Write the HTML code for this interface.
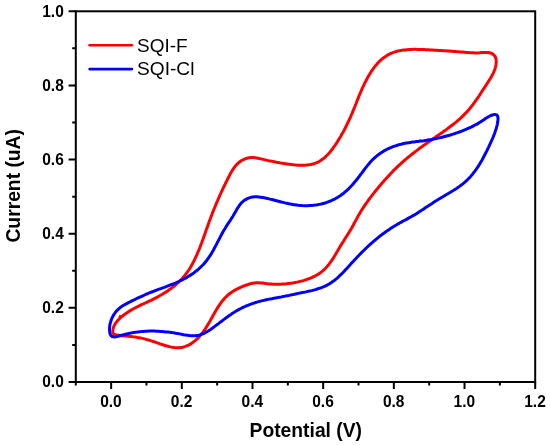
<!DOCTYPE html>
<html><head><meta charset="utf-8"><style>
html,body{margin:0;padding:0;background:#fff;}
body{width:550px;height:445px;overflow:hidden;}
svg{display:block;}
.tl{font:bold 15.5px "Liberation Sans",Arial,sans-serif;fill:#000;}
.al{font:bold 19.3px "Liberation Sans",Arial,sans-serif;fill:#000;}
.lg{font:18.3px "Liberation Sans",Arial,sans-serif;fill:#000;}
</style></head><body>
<svg width="550" height="445" viewBox="0 0 550 445">
<path d="M112.8,330.8 113.1,328.8 113.6,326.9 114.5,325.1 115.5,323.3 116.8,321.6 118.2,320.0 119.7,318.4 121.4,316.9 123.1,315.5 124.9,314.2 126.7,312.9 128.5,311.7 130.3,310.6 132.1,309.5 134.0,308.5 135.9,307.5 137.7,306.6 139.6,305.7 141.5,304.7 143.4,303.9 145.3,303.0 147.2,302.1 149.1,301.2 151.1,300.3 153.0,299.3 154.9,298.3 156.8,297.3 158.7,296.3 160.5,295.3 162.4,294.2 164.2,293.0 166.1,291.9 167.9,290.7 169.6,289.4 171.4,288.2 173.1,286.9 174.8,285.5 176.4,284.1 178.0,282.7 179.5,281.2 181.0,279.7 182.5,278.2 183.9,276.6 185.2,274.9 186.5,273.2 187.7,271.5 188.9,269.8 190.1,268.0 191.1,266.1 192.2,264.3 193.2,262.4 194.2,260.5 195.1,258.5 196.0,256.6 196.9,254.6 197.7,252.7 198.6,250.7 199.4,248.7 200.2,246.7 200.9,244.7 201.7,242.7 202.4,240.7 203.2,238.7 203.9,236.7 204.6,234.7 205.3,232.7 206.0,230.6 206.7,228.6 207.5,226.6 208.2,224.6 208.9,222.6 209.6,220.6 210.4,218.6 211.1,216.6 211.9,214.6 212.6,212.6 213.4,210.7 214.2,208.7 215.0,206.7 215.8,204.8 216.6,202.8 217.5,200.8 218.3,198.9 219.2,196.9 220.0,195.0 220.9,193.0 221.8,191.1 222.7,189.2 223.6,187.2 224.6,185.3 225.5,183.3 226.5,181.4 227.4,179.5 228.4,177.5 229.4,175.6 230.4,173.6 231.5,171.7 232.6,169.9 233.8,168.1 235.1,166.4 236.4,164.8 237.9,163.4 239.5,162.0 241.2,160.8 243.0,159.8 245.0,158.9 247.0,158.3 249.1,157.8 251.3,157.6 253.4,157.6 255.6,157.8 257.8,158.2 259.9,158.6 262.1,159.1 264.2,159.6 266.3,160.1 268.3,160.6 270.4,161.0 272.4,161.4 274.4,161.8 276.4,162.2 278.4,162.5 280.5,162.9 282.6,163.2 284.7,163.6 286.9,163.9 289.1,164.2 291.3,164.5 293.5,164.8 295.7,165.0 297.9,165.2 300.1,165.3 302.3,165.3 304.5,165.2 306.6,165.1 308.8,164.8 310.8,164.5 312.8,164.0 314.8,163.4 316.7,162.7 318.6,161.8 320.3,160.8 322.0,159.6 323.7,158.4 325.3,157.0 326.8,155.5 328.3,154.0 329.7,152.4 331.1,150.7 332.4,149.0 333.7,147.2 335.0,145.4 336.2,143.6 337.4,141.7 338.5,139.9 339.7,138.0 340.8,136.2 341.8,134.3 342.9,132.5 343.9,130.6 344.9,128.7 345.9,126.8 346.8,124.9 347.7,123.0 348.6,121.1 349.5,119.2 350.4,117.3 351.2,115.3 352.1,113.4 352.9,111.4 353.7,109.4 354.5,107.5 355.3,105.5 356.1,103.5 356.8,101.5 357.6,99.6 358.4,97.6 359.2,95.6 360.0,93.6 360.9,91.6 361.7,89.7 362.6,87.7 363.5,85.8 364.4,83.8 365.4,81.9 366.4,80.0 367.4,78.0 368.5,76.1 369.6,74.3 370.7,72.4 371.9,70.6 373.1,68.9 374.4,67.1 375.7,65.5 377.1,63.9 378.6,62.3 380.0,60.8 381.6,59.4 383.2,58.1 384.9,56.9 386.6,55.7 388.4,54.6 390.3,53.7 392.2,52.8 394.2,52.1 396.3,51.5 398.4,50.9 400.6,50.5 402.7,50.1 404.9,49.9 407.1,49.7 409.3,49.5 411.4,49.4 413.6,49.3 415.7,49.3 417.8,49.4 419.9,49.4 422.0,49.5 424.1,49.6 426.2,49.7 428.3,49.8 430.4,49.9 432.6,50.0 434.7,50.2 436.8,50.3 439.0,50.4 441.1,50.5 443.3,50.7 445.4,50.8 447.5,51.0 449.7,51.1 451.8,51.2 454.0,51.4 456.1,51.6 458.3,51.7 460.4,51.9 462.5,52.0 464.6,52.2 466.8,52.4 468.9,52.6 471.0,52.7 473.1,52.8 475.2,52.9 477.3,52.9 479.5,52.8 481.7,52.6 483.9,52.5 486.1,52.4 488.2,52.5 490.3,53.0 492.2,53.7 493.9,54.9 495.2,56.4 495.9,58.4 496.2,60.5 496.2,62.7 495.9,64.9 495.5,67.1 494.9,69.2 494.1,71.2 493.3,73.1 492.3,75.0 491.3,76.9 490.2,78.7 489.1,80.4 488.0,82.2 486.8,84.0 485.6,85.8 484.5,87.6 483.3,89.4 482.1,91.2 480.9,93.0 479.8,94.8 478.6,96.6 477.4,98.3 476.1,100.1 474.9,101.9 473.6,103.6 472.3,105.3 471.0,107.0 469.7,108.7 468.3,110.3 466.9,111.9 465.4,113.4 463.9,114.9 462.4,116.4 460.9,117.9 459.3,119.3 457.7,120.7 456.1,122.1 454.4,123.4 452.7,124.7 451.0,126.0 449.3,127.3 447.6,128.6 445.9,129.9 444.2,131.1 442.4,132.4 440.7,133.6 438.9,134.8 437.1,136.0 435.4,137.3 433.6,138.5 431.9,139.7 430.1,140.9 428.4,142.1 426.6,143.4 424.9,144.6 423.1,145.8 421.4,147.1 419.7,148.3 418.0,149.6 416.3,150.9 414.6,152.2 412.9,153.5 411.2,154.8 409.6,156.1 407.9,157.5 406.3,158.8 404.7,160.2 403.1,161.6 401.5,163.0 399.9,164.5 398.3,165.9 396.8,167.4 395.3,168.9 393.7,170.4 392.2,172.0 390.8,173.5 389.3,175.1 387.8,176.7 386.4,178.2 385.0,179.8 383.5,181.5 382.1,183.1 380.7,184.7 379.4,186.3 378.0,188.0 376.6,189.6 375.3,191.3 374.0,192.9 372.6,194.6 371.3,196.3 370.1,198.0 368.8,199.7 367.6,201.4 366.3,203.1 365.1,204.9 363.9,206.7 362.8,208.4 361.6,210.2 360.5,212.0 359.4,213.9 358.3,215.7 357.3,217.6 356.3,219.5 355.2,221.4 354.2,223.3 353.2,225.2 352.2,227.1 351.1,229.0 350.0,230.8 349.0,232.6 347.8,234.4 346.7,236.2 345.5,237.9 344.4,239.7 343.3,241.5 342.1,243.3 341.0,245.1 339.9,246.9 338.8,248.8 337.7,250.7 336.6,252.5 335.5,254.4 334.4,256.3 333.3,258.1 332.1,259.9 330.9,261.7 329.6,263.4 328.3,265.1 326.9,266.7 325.5,268.2 324.0,269.7 322.5,271.1 320.8,272.4 319.1,273.6 317.3,274.7 315.5,275.8 313.6,276.7 311.7,277.6 309.7,278.5 307.6,279.2 305.6,279.9 303.5,280.6 301.4,281.1 299.2,281.6 297.1,282.1 295.0,282.5 292.8,282.9 290.7,283.2 288.6,283.5 286.5,283.8 284.4,284.0 282.3,284.1 280.2,284.2 278.2,284.3 276.1,284.3 273.9,284.2 271.8,284.1 269.7,283.9 267.5,283.7 265.3,283.4 263.1,283.1 261.0,282.9 258.8,282.7 256.7,282.7 254.6,282.9 252.6,283.2 250.5,283.7 248.6,284.3 246.6,285.0 244.5,285.7 242.5,286.5 240.5,287.4 238.5,288.3 236.5,289.3 234.6,290.4 232.7,291.5 230.9,292.7 229.2,294.0 227.6,295.4 226.1,296.8 224.6,298.3 223.2,299.9 221.9,301.5 220.7,303.1 219.5,304.9 218.3,306.6 217.2,308.4 216.1,310.2 215.0,312.1 214.0,313.9 212.9,315.8 211.9,317.7 210.8,319.6 209.8,321.5 208.7,323.3 207.6,325.2 206.4,327.0 205.3,328.9 204.1,330.6 202.8,332.4 201.4,334.1 200.0,335.8 198.6,337.4 197.1,338.9 195.5,340.3 193.8,341.7 192.1,342.9 190.4,344.1 188.6,345.1 186.7,345.9 184.8,346.6 182.8,347.2 180.8,347.6 178.7,347.8 176.6,347.8 174.5,347.6 172.3,347.3 170.2,346.9 168.0,346.3 165.8,345.7 163.6,345.0 161.5,344.3 159.4,343.6 157.3,342.9 155.3,342.2 153.3,341.5 151.3,340.9 149.4,340.2 147.4,339.7 145.4,339.1 143.4,338.6 141.4,338.1 139.3,337.7 137.2,337.4 135.1,337.0 132.9,336.8 130.7,336.5 128.5,336.3 126.2,336.1 124.0,335.9 121.8,335.7 119.7,335.4 117.5,335.1 115.5,334.7 113.8,334.1 112.8,332.8Z" fill="none" stroke="#ff0000" stroke-width="3" stroke-linejoin="round"/>
<path d="M109.8,332.8 109.6,331.0 109.5,329.2 109.6,327.3 109.8,325.3 110.2,323.4 110.8,321.5 111.4,319.5 112.2,317.7 113.1,315.9 114.2,314.1 115.3,312.5 116.5,311.0 117.9,309.6 119.3,308.4 120.7,307.2 122.3,306.1 123.9,305.1 125.5,304.2 127.2,303.3 128.9,302.4 130.6,301.6 132.3,300.7 134.1,299.9 135.8,299.0 137.5,298.2 139.3,297.4 141.0,296.6 142.8,295.8 144.6,295.0 146.4,294.2 148.1,293.5 149.9,292.7 151.7,292.0 153.5,291.3 155.3,290.6 157.2,289.9 159.0,289.2 160.8,288.6 162.6,287.9 164.4,287.3 166.2,286.6 168.0,285.9 169.9,285.2 171.7,284.5 173.4,283.8 175.2,283.1 177.0,282.3 178.7,281.5 180.5,280.7 182.2,279.9 183.9,279.0 185.6,278.1 187.3,277.1 188.9,276.1 190.6,275.1 192.2,274.0 193.8,272.9 195.3,271.7 196.8,270.5 198.3,269.3 199.7,268.0 201.1,266.7 202.5,265.3 203.8,263.9 205.0,262.5 206.3,261.0 207.4,259.5 208.5,257.9 209.6,256.3 210.7,254.7 211.7,253.1 212.6,251.4 213.6,249.7 214.5,248.0 215.4,246.3 216.3,244.6 217.2,242.8 218.1,241.1 219.0,239.4 219.9,237.7 220.8,235.9 221.7,234.2 222.6,232.5 223.6,230.8 224.6,229.2 225.6,227.5 226.6,225.9 227.6,224.3 228.7,222.7 229.8,221.1 230.8,219.5 231.8,217.9 232.9,216.3 233.9,214.6 234.8,212.9 235.8,211.3 236.7,209.6 237.7,207.9 238.8,206.3 239.9,204.7 241.1,203.2 242.5,201.9 244.0,200.6 245.6,199.6 247.4,198.6 249.2,197.9 251.0,197.3 252.9,197.0 254.8,196.8 256.7,196.8 258.7,196.9 260.6,197.2 262.5,197.5 264.4,197.8 266.3,198.2 268.2,198.6 270.0,199.1 271.9,199.5 273.8,200.0 275.6,200.5 277.5,201.0 279.4,201.5 281.3,202.0 283.1,202.4 285.0,202.9 286.9,203.3 288.8,203.7 290.7,204.1 292.6,204.4 294.5,204.7 296.4,205.0 298.3,205.3 300.2,205.4 302.1,205.6 304.0,205.7 306.0,205.7 307.9,205.7 309.8,205.6 311.7,205.5 313.7,205.3 315.6,205.1 317.5,204.8 319.4,204.4 321.3,204.0 323.2,203.5 325.1,203.0 326.9,202.4 328.7,201.7 330.5,201.0 332.3,200.2 334.0,199.4 335.7,198.5 337.4,197.5 339.0,196.5 340.6,195.5 342.2,194.3 343.7,193.2 345.2,191.9 346.6,190.7 348.0,189.4 349.3,188.0 350.7,186.6 352.0,185.2 353.3,183.7 354.5,182.3 355.8,180.8 357.0,179.3 358.2,177.7 359.4,176.2 360.5,174.6 361.7,173.1 362.9,171.5 364.0,170.0 365.2,168.4 366.4,166.9 367.6,165.4 368.8,163.9 370.0,162.5 371.3,161.1 372.6,159.7 374.0,158.4 375.4,157.1 376.9,155.8 378.4,154.7 380.0,153.5 381.6,152.4 383.2,151.4 384.9,150.4 386.6,149.5 388.3,148.7 390.1,147.9 391.9,147.1 393.7,146.4 395.5,145.8 397.4,145.2 399.2,144.6 401.1,144.2 402.9,143.7 404.8,143.3 406.7,143.0 408.6,142.7 410.5,142.4 412.4,142.1 414.3,141.9 416.2,141.6 418.1,141.4 420.0,141.1 422.0,140.9 423.9,140.7 425.8,140.4 427.7,140.1 429.6,139.8 431.5,139.5 433.4,139.1 435.3,138.7 437.2,138.3 439.1,137.9 441.0,137.5 442.9,137.0 444.8,136.5 446.6,136.0 448.5,135.5 450.3,135.0 452.2,134.4 454.0,133.8 455.8,133.2 457.6,132.6 459.4,132.0 461.2,131.3 462.9,130.6 464.7,129.9 466.5,129.2 468.2,128.4 469.9,127.6 471.7,126.8 473.4,125.9 475.1,125.0 476.9,124.1 478.6,123.1 480.3,122.0 482.1,120.9 483.8,119.8 485.5,118.6 487.2,117.5 488.9,116.5 490.6,115.7 492.3,115.0 493.9,114.6 495.4,114.6 496.8,115.0 497.6,116.1 498.0,117.8 498.0,119.9 497.7,122.1 497.3,124.3 496.8,126.3 496.3,128.2 495.7,130.1 495.1,131.9 494.5,133.7 493.8,135.4 493.1,137.2 492.4,138.9 491.6,140.7 490.8,142.4 490.0,144.1 489.2,145.9 488.4,147.6 487.5,149.3 486.7,151.1 485.8,152.8 484.9,154.5 484.0,156.3 483.1,158.0 482.2,159.7 481.2,161.4 480.2,163.1 479.2,164.7 478.2,166.4 477.1,168.0 476.0,169.6 474.9,171.1 473.7,172.7 472.6,174.2 471.3,175.6 470.1,177.1 468.7,178.5 467.4,179.8 466.0,181.1 464.6,182.4 463.1,183.6 461.6,184.8 460.1,185.9 458.5,187.1 456.9,188.2 455.3,189.2 453.7,190.3 452.0,191.3 450.4,192.3 448.7,193.3 447.0,194.3 445.3,195.3 443.7,196.3 442.0,197.3 440.3,198.3 438.6,199.3 437.0,200.3 435.3,201.3 433.7,202.3 432.1,203.4 430.5,204.4 428.8,205.5 427.3,206.6 425.7,207.6 424.1,208.7 422.5,209.8 420.9,210.8 419.3,211.8 417.6,212.9 416.0,213.9 414.4,214.9 412.7,215.8 411.0,216.8 409.3,217.7 407.7,218.6 406.0,219.6 404.3,220.5 402.6,221.4 400.9,222.3 399.2,223.3 397.5,224.2 395.8,225.2 394.2,226.2 392.5,227.3 390.9,228.3 389.3,229.4 387.7,230.5 386.1,231.6 384.5,232.7 383.0,233.8 381.4,235.0 379.9,236.2 378.4,237.4 376.9,238.6 375.4,239.8 373.9,241.1 372.4,242.4 371.0,243.6 369.6,244.9 368.2,246.2 366.8,247.5 365.4,248.8 364.0,250.2 362.7,251.5 361.3,252.9 360.0,254.2 358.7,255.6 357.3,257.0 356.0,258.4 354.7,259.8 353.4,261.2 352.1,262.6 350.8,264.1 349.5,265.5 348.2,266.9 346.8,268.4 345.5,269.8 344.2,271.3 342.8,272.7 341.4,274.1 340.0,275.4 338.6,276.8 337.2,278.1 335.7,279.3 334.2,280.5 332.7,281.6 331.1,282.7 329.5,283.8 327.9,284.7 326.2,285.6 324.5,286.4 322.7,287.1 320.9,287.8 319.1,288.4 317.3,289.0 315.4,289.6 313.6,290.1 311.7,290.6 309.8,291.0 307.9,291.4 306.0,291.9 304.1,292.3 302.1,292.6 300.2,293.0 298.3,293.4 296.5,293.8 294.6,294.2 292.7,294.6 290.8,295.0 288.9,295.4 287.1,295.7 285.2,296.1 283.3,296.5 281.4,296.9 279.6,297.2 277.7,297.6 275.8,297.9 273.9,298.3 272.0,298.7 270.1,299.0 268.2,299.4 266.3,299.8 264.4,300.2 262.5,300.6 260.6,301.1 258.7,301.6 256.9,302.1 255.0,302.7 253.2,303.3 251.4,303.9 249.6,304.6 247.8,305.3 246.0,306.0 244.2,306.8 242.5,307.6 240.8,308.5 239.1,309.4 237.4,310.3 235.8,311.3 234.2,312.3 232.5,313.3 231.0,314.4 229.4,315.5 227.8,316.6 226.2,317.8 224.7,318.9 223.1,320.1 221.6,321.2 220.0,322.4 218.5,323.6 216.9,324.8 215.4,325.9 213.8,327.1 212.2,328.3 210.6,329.4 209.0,330.4 207.3,331.5 205.7,332.4 204.0,333.3 202.3,334.0 200.5,334.7 198.8,335.2 196.9,335.6 195.1,335.8 193.2,335.8 191.3,335.8 189.4,335.6 187.4,335.3 185.4,335.0 183.5,334.7 181.5,334.3 179.5,333.9 177.6,333.5 175.6,333.2 173.7,332.8 171.7,332.6 169.8,332.3 167.9,332.1 166.0,331.9 164.1,331.7 162.2,331.5 160.3,331.4 158.4,331.3 156.5,331.2 154.6,331.1 152.7,331.1 150.8,331.1 148.9,331.1 147.1,331.2 145.2,331.3 143.3,331.4 141.3,331.6 139.4,331.7 137.5,332.0 135.6,332.2 133.7,332.5 131.7,332.9 129.8,333.3 127.8,333.7 125.8,334.2 123.8,334.7 121.8,335.2 119.8,335.8 117.8,336.4 115.9,336.8 114.1,336.9 112.4,336.6 111.1,335.8 110.3,334.5Z" fill="none" stroke="#0000ff" stroke-width="3" stroke-linejoin="round"/>
<path d="M118.3,317.2L119.6,314.8L122.3,315.8L121,317.8Z" fill="#ff0000"/>
<rect x="75.8" y="11.3" width="459.4" height="370.7" fill="none" stroke="#000" stroke-width="2"/>
<path d="M68.6,382.00H75.8M72.2,344.93H75.8M68.6,307.86H75.8M72.2,270.79H75.8M68.6,233.72H75.8M72.2,196.65H75.8M68.6,159.58H75.8M72.2,122.51H75.8M68.6,85.44H75.8M72.2,48.37H75.8M68.6,11.30H75.8M75.80,382.0V385.6M111.14,382.0V389.0M146.48,382.0V385.6M181.82,382.0V389.0M217.15,382.0V385.6M252.49,382.0V389.0M287.83,382.0V385.6M323.17,382.0V389.0M358.51,382.0V385.6M393.85,382.0V389.0M429.18,382.0V385.6M464.52,382.0V389.0M499.86,382.0V385.6M535.20,382.0V389.0" stroke="#000" stroke-width="2" fill="none"/>
<text class="tl" text-anchor="end" transform="translate(63.8,387.30) scale(1,1.08)">0.0</text>
<text class="tl" text-anchor="end" transform="translate(63.8,313.16) scale(1,1.08)">0.2</text>
<text class="tl" text-anchor="end" transform="translate(63.8,239.02) scale(1,1.08)">0.4</text>
<text class="tl" text-anchor="end" transform="translate(63.8,164.88) scale(1,1.08)">0.6</text>
<text class="tl" text-anchor="end" transform="translate(63.8,90.74) scale(1,1.08)">0.8</text>
<text class="tl" text-anchor="end" transform="translate(63.8,16.60) scale(1,1.08)">1.0</text>
<text class="tl" text-anchor="middle" transform="translate(110.94,406.9) scale(1,1.08)">0.0</text>
<text class="tl" text-anchor="middle" transform="translate(181.62,406.9) scale(1,1.08)">0.2</text>
<text class="tl" text-anchor="middle" transform="translate(252.29,406.9) scale(1,1.08)">0.4</text>
<text class="tl" text-anchor="middle" transform="translate(322.97,406.9) scale(1,1.08)">0.6</text>
<text class="tl" text-anchor="middle" transform="translate(393.65,406.9) scale(1,1.08)">0.8</text>
<text class="tl" text-anchor="middle" transform="translate(464.32,406.9) scale(1,1.08)">1.0</text>
<text class="tl" text-anchor="middle" transform="translate(535.00,406.9) scale(1,1.08)">1.2</text>
<text class="al" text-anchor="middle" transform="translate(20.1,185.8) rotate(-90)">Current (uA)</text>
<text class="al" x="305.8" y="436.8" text-anchor="middle">Potential (V)</text>
<path d="M89.6,45.3H131.9" stroke="#ff0000" stroke-width="2.6" stroke-linecap="round"/>
<path d="M89.6,69.1H131.9" stroke="#0000ff" stroke-width="2.6" stroke-linecap="round"/>
<text class="lg" x="137" y="51.5" textLength="50.6" lengthAdjust="spacingAndGlyphs">SQI-F</text>
<text class="lg" x="137" y="74.7" textLength="57.4" lengthAdjust="spacingAndGlyphs">SQI-Cl</text>
</svg>
</body></html>
